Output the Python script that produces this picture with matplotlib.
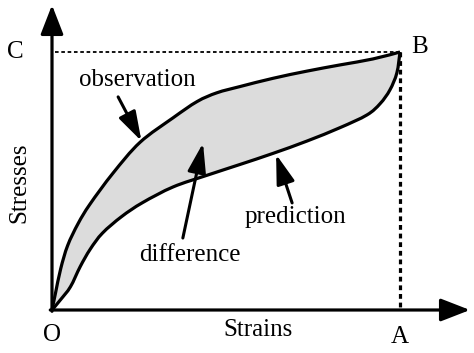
import numpy as np
import matplotlib
matplotlib.use("Agg")
import matplotlib.pyplot as plt
from matplotlib.path import Path
from matplotlib.patches import PathPatch

# strain / stress (normalised so that B = (1, 1))
obs_strain = [0, 0.010, 0.025, 0.045, 0.075, 0.109, 0.175, 0.253, 0.348, 0.417,
              0.474, 0.540, 0.635, 0.733, 0.828, 0.922, 1.0]
obs_stress = [0, 0.065, 0.160, 0.250, 0.335, 0.410, 0.530, 0.650, 0.745, 0.808,
              0.842, 0.866, 0.898, 0.926, 0.950, 0.973, 1.0]

pred_strain = [0, 0.024, 0.053, 0.081, 0.110, 0.145, 0.200, 0.260, 0.348, 0.445,
               0.540, 0.635, 0.733, 0.828, 0.905, 0.943, 0.971, 0.991, 1.0]
pred_stress = [0, 0.039, 0.090, 0.168, 0.236, 0.298, 0.362, 0.416, 0.477, 0.522,
               0.564, 0.607, 0.655, 0.707, 0.756, 0.800, 0.853, 0.919, 1.0]

point_B = (1.0, 1.0)

plt.rcParams['font.family'] = ['Liberation Serif', 'DejaVu Serif']
FS = 18


def smooth_curve(x, y):
    """Catmull-Rom through the points, handed to matplotlib as cubic bezier segments."""
    pts = np.column_stack([x, y]).astype(float)
    verts = [pts[0]]
    codes = [Path.MOVETO]
    n = len(pts)
    for i in range(n - 1):
        p0 = pts[i - 1] if i > 0 else pts[i]
        p1 = pts[i]
        p2 = pts[i + 1]
        p3 = pts[i + 2] if i + 2 < n else pts[i + 1]
        verts += [p1 + (p2 - p0) / 6, p2 - (p3 - p1) / 6, p2]
        codes += [Path.CURVE4] * 3
    return verts, codes


fig = plt.figure(figsize=(4.74, 3.53), dpi=100)
ax = fig.add_axes([0, 0, 1, 1])
ax.set_xlim(-52 / 348, (474 - 52) / 348)
ax.set_ylim(-(353 - 310) / 258, 310 / 258)
ax.axis('off')

obs_v, obs_c = smooth_curve(obs_strain, obs_stress)
pred_v, pred_c = smooth_curve(pred_strain[::-1], pred_stress[::-1])

# shaded difference between the two curves
fill_v = obs_v + pred_v[1:] + [obs_v[0]]
fill_c = obs_c + pred_c[1:] + [Path.CLOSEPOLY]
ax.add_patch(PathPatch(Path(fill_v, fill_c), facecolor='#dcdcdc', edgecolor='none'))

ax.add_patch(PathPatch(Path(obs_v, obs_c), facecolor='none', edgecolor='k', lw=2.3))
ax.add_patch(PathPatch(Path(pred_v, pred_c), facecolor='none', edgecolor='k', lw=2.3))

# guide lines from B
ax.plot([0.01, point_B[0]], [point_B[1], point_B[1]], color='k', lw=1.3, ls=(0, (2, 1.5)))
ax.plot([point_B[0], point_B[0]], [point_B[1], 0], color='k', lw=2.3, ls=(0, (1.5, 1.2)))

# axes with arrow heads
axis_kw = dict(arrowstyle='-|>,head_length=0.9,head_width=0.35', lw=2.3, color='k',
               mutation_scale=20, shrinkA=0, shrinkB=0)
ax.annotate('', xy=(0, 1.182), xytext=(0, -0.005), arrowprops=axis_kw)
ax.annotate('', xy=(1.201, 0), xytext=(-0.005, 0), arrowprops=axis_kw)

ax.text(-0.106, 1.0, 'C', fontsize=FS, ha='center', va='center')
ax.text(1.057, 1.02, 'B', fontsize=FS, ha='center', va='center')
ax.text(0.0, -0.097, 'O', fontsize=FS, ha='center', va='center')
ax.text(1.0, -0.105, 'A', fontsize=FS, ha='center', va='center')
ax.text(0.592, -0.078, 'Strains', fontsize=FS, ha='center', va='center')
ax.text(-0.095, 0.492, 'Stresses', fontsize=FS, ha='center', va='center', rotation=90)

lab_kw = dict(arrowstyle='-|>,head_length=0.9,head_width=0.28', lw=2.2, color='k',
              mutation_scale=20, shrinkA=0, shrinkB=0)
ax.text(0.244, 0.891, 'observation', fontsize=FS, ha='center', va='center')
ax.annotate('', xy=(0.257, 0.655), xytext=(0.190, 0.826), arrowprops=lab_kw)
ax.text(0.698, 0.360, 'prediction', fontsize=FS, ha='center', va='center')
ax.annotate('', xy=(0.644, 0.603), xytext=(0.690, 0.415), arrowprops=lab_kw)
ax.text(0.397, 0.213, 'difference', fontsize=FS, ha='center', va='center')
ax.annotate('', xy=(0.434, 0.647), xytext=(0.376, 0.279), arrowprops=lab_kw)

fig.savefig('out.png', dpi=100)
